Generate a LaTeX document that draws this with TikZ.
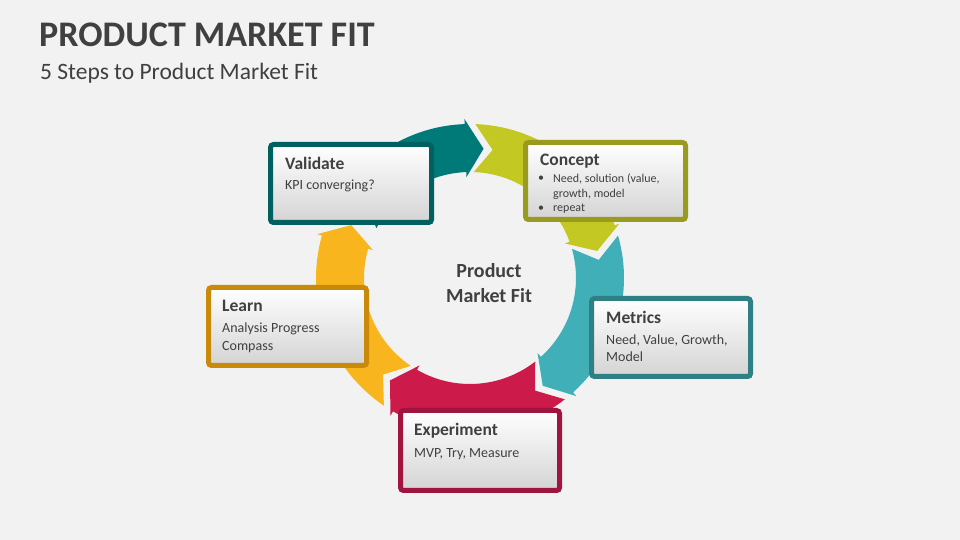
\documentclass[tikz,border=0pt]{standalone}
\usepackage{fontspec}
\setmainfont{Carlito}
\usetikzlibrary{shadows}
\definecolor{bg}{HTML}{F2F2F2}
\definecolor{txt}{HTML}{404040}
\definecolor{cTeal}{HTML}{007A78}
\definecolor{cGreen}{HTML}{C3C822}
\definecolor{cBlue}{HTML}{41AFB8}
\definecolor{cRed}{HTML}{CC1A4A}
\definecolor{cYel}{HTML}{F8B51D}
\definecolor{bTeal}{HTML}{00605F}
\definecolor{bGreen}{HTML}{9A9A1E}
\definecolor{bBlue}{HTML}{2F8085}
\definecolor{bRed}{HTML}{A0153E}
\definecolor{bYel}{HTML}{C98A0A}
\newcommand\ringseg[3]{%
 \pgfmathsetmacro\sa{#2}\pgfmathsetmacro\sb{#3}\pgfmathsetmacro\sbd{#3+8}\pgfmathsetmacro\sad{#2-8}%
 \fill[#1] plot[domain=\sa:\sbd, samples=30] (\x:154) -- (\sbd:159) -- (\sb:130) -- (\sbd:101) -- plot[domain=\sbd:\sa, samples=30] (\x:106) -- (\sad:130) -- cycle;}
\tikzset{
 card/.style={draw=#1, line width=5pt, rounded corners=3pt, top color=white, bottom color=black!17, drop shadow={opacity=0.35,shadow xshift=2pt,shadow yshift=-2pt}, inner sep=0pt},
 ttl/.style={anchor=west, font=\fontsize{17.5}{19}\selectfont\bfseries, text=txt, inner sep=0pt},
 bod/.style={anchor=west, font=\fontsize{14}{16}\selectfont, text=txt, inner sep=0pt},
 sbod/.style={anchor=west, font=\fontsize{12}{14}\selectfont, text=txt, inner sep=0pt},
}
\begin{document}
\begin{tikzpicture}[x=1pt,y=1pt]
\fill[bg] (0,0) rectangle (960,540);
\useasboundingbox (0,0) rectangle (960,540);
\node[anchor=west, font=\fontsize{36}{38}\selectfont\bfseries, text=txt, inner sep=0pt] (title) at (39,505) {PRODUCT MARKET FIT};
\node[anchor=west, font=\fontsize{23.5}{25}\selectfont, text=txt, inner sep=0pt] (sub) at (40,467) {5 Steps to Product Market Fit};
\begin{scope}[shift={(470,262)}]
\ringseg{cTeal}{152}{84}
\ringseg{cGreen}{88}{12}
\ringseg{cBlue}{16}{-56}
\ringseg{cRed}{-52}{-128}
\ringseg{cYel}{-124}{-204}
\end{scope}
\node[font=\fontsize{20}{25}\selectfont\bfseries, text=txt, align=center] (center) at (489,257) {Product\\Market Fit};
\node[card=bTeal, minimum width=161pt, minimum height=78pt] (v) at (351,356.5) {};
\node[card=bGreen, minimum width=160pt, minimum height=77pt] (c) at (605.5,359) {};
\node[card=bBlue, minimum width=159pt, minimum height=78pt] (m) at (671,202.5) {};
\node[card=bYel, minimum width=158pt, minimum height=78pt] (l) at (287.5,213.5) {};
\node[card=bRed, minimum width=159pt, minimum height=80pt] (e) at (480,89.5) {};
\node[ttl] (vt) at (285,377) {Validate};
\node[bod] (vb) at (285,354) {KPI converging?};
\node[ttl] (ct) at (540,379) {Concept};
\node[sbod] (cb1a) at (538,361) {\textbullet};
\node[sbod] (cb1) at (553,361) {Need, solution (value,};
\node[sbod] (cb2) at (553,346) {growth, model};
\node[sbod] (cb3a) at (538,331) {\textbullet};
\node[sbod] (cb3) at (553,331) {repeat};
\node[ttl] (mt) at (606,223) {Metrics};
\node[bod] (mb1) at (606,199) {Need, Value, Growth,};
\node[bod] (mb2) at (606,183) {Model};
\node[ttl] (lt) at (222,234) {Learn};
\node[bod] (lb1) at (222,211) {Analysis Progress};
\node[bod] (lb2) at (222,193) {Compass};
\node[ttl] (et) at (414,109) {Experiment};
\node[bod] (eb) at (414,86) {MVP, Try, Measure};
\end{tikzpicture}
\end{document}
